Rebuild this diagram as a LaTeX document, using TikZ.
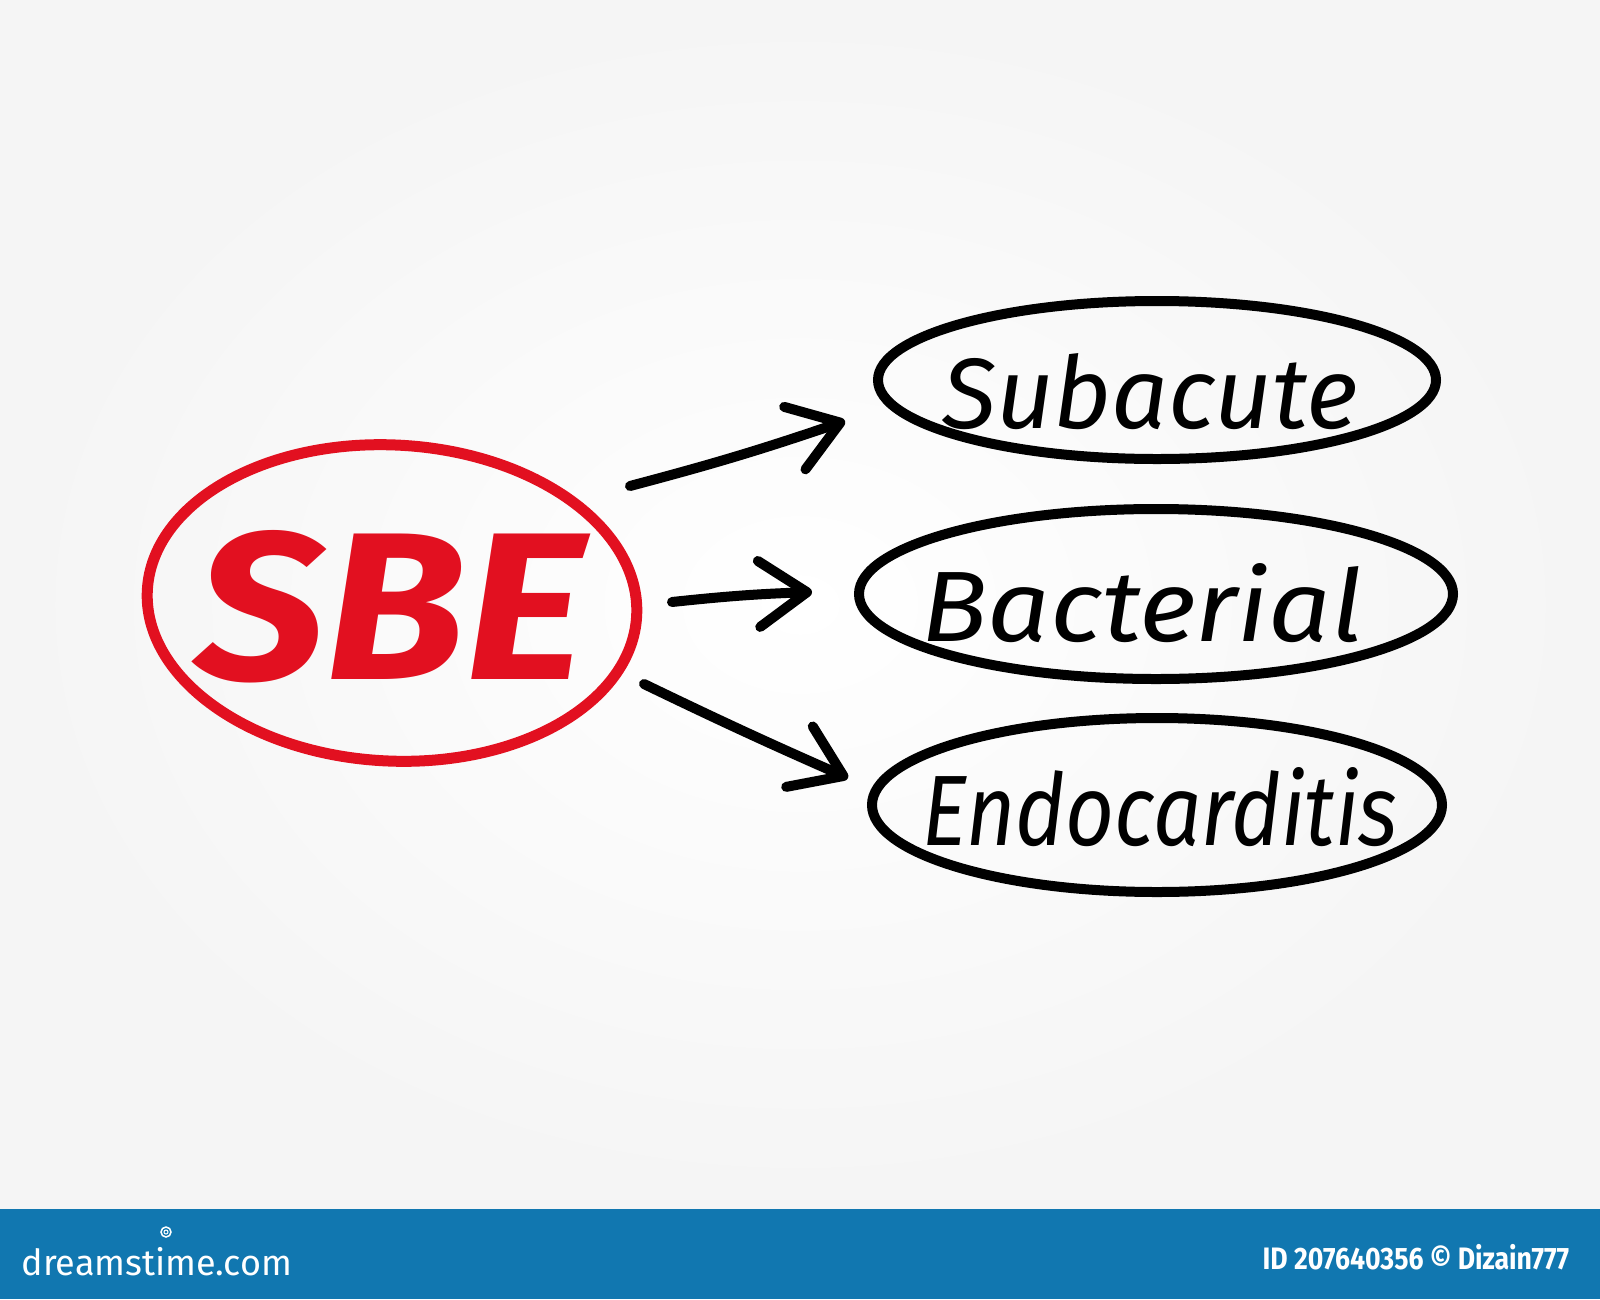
\documentclass[tikz,border=0pt]{standalone}
\usepackage{fontspec}
\setmainfont{Fira Sans}
\usetikzlibrary{shapes.geometric,arrows.meta}
\definecolor{sbered}{RGB}{226,16,32}
\definecolor{barblue}{RGB}{17,119,176}
\begin{document}
\begin{tikzpicture}[x=1pt,y=-1pt,
  oval/.style={ellipse, draw=black, line width=10pt, inner sep=0pt},
  ovaltext/.style={font=\fontsize{100}{100}\selectfont\itshape},
  link/.style={line width=10pt, line cap=round, black,
    -{Straight Barb[length=48pt,width=66pt,round]}},
]
\useasboundingbox (0,0) rectangle (1600,1299);
\shade[inner color=white, outer color=black!4] (0,0) rectangle (1600,1209);
\fill[barblue] (0,1209) rectangle (1600,1299);

% central red ellipse
\node[ellipse, draw=sbered, line width=11pt, minimum width=490pt, minimum height=316pt,
      rotate=-3] (sbe) at (392,603) {};
\node[text=sbered, xscale=1.1, font=\fontsize{210}{210}\bfseries\itshape] (sbetxt) at (390,607) {SBE};

% black ellipses
\node[oval, minimum width=558pt, minimum height=158pt] (sub) at (1157,380) {};
\node[ovaltext] (subt) at (1150,392) {Subacute};
\node[oval, minimum width=594pt, minimum height=170pt] (bac) at (1156,594) {};
\node[ovaltext, xscale=1.1] (bact) at (1142,603) {Bacterial};
\node[oval, minimum width=570pt, minimum height=174pt] (end) at (1157,805) {};
\node[ovaltext, xscale=0.85] (endt) at (1160,807) {Endocarditis};

% arrows
\coordinate (a1s) at (630,486);
\coordinate (a1e) at (845,421);
\coordinate (a2s) at (672,602);
\coordinate (a2e) at (812,592);
\coordinate (a3s) at (644,684);
\coordinate (a3e) at (848,778);
\draw[link] (a1s) to[bend right=2] (a1e);
\draw[link] (a2s) to[bend left=2] (a2e);
\draw[link] (a3s) to[bend right=1] (a3e);

% footer
\node[anchor=west, text=white, font=\fontsize{36}{36}\selectfont] (logo) at (18,1262) {dreamstime.com};
\draw[white, line width=1.5pt] (166,1232) circle (5pt);
\draw[white, line width=1pt] (166,1232) circle (2pt);
\node[anchor=east, text=white, xscale=0.86, font=\fontsize{31}{31}\selectfont\bfseries] (credit) at (1572,1257) {ID 207640356 © Dizain777};
\end{tikzpicture}
\end{document}
